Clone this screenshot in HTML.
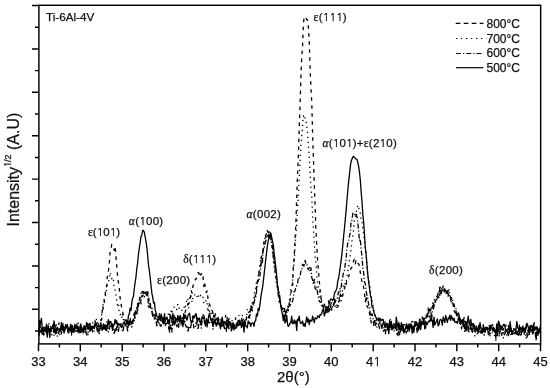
<!DOCTYPE html>
<html><head><meta charset="utf-8"><style>
html,body{margin:0;padding:0;background:#fff;}
#w{position:relative;width:550px;height:388px;overflow:hidden;background:#fff;}
svg{position:absolute;left:0;top:0;display:block;}
.t{position:absolute;white-space:nowrap;line-height:1;font-family:"Liberation Sans",Arial,sans-serif;color:#111;-webkit-text-stroke:0.25px #111;}
.g{font-family:"Liberation Serif","Times New Roman",serif;}
.ga{font-family:"Liberation Serif","Times New Roman",serif;font-style:italic;}
.c{transform:translateX(-50%);}
.one{font-family:"NanumGothic","Liberation Sans",sans-serif;font-size:0.965em;margin-right:-0.03em;}
sup{font-size:9px;vertical-align:baseline;position:relative;top:-8.5px;line-height:1;}
</style></head><body><div id="w">
<svg width="550" height="388" viewBox="0 0 550 388">
<g fill="none" stroke-linejoin="round" stroke-linecap="butt">
<polyline stroke="#000" stroke-width="1.3" stroke-dasharray="3.6 4.4" points="38.9,329.7 39.7,334.2 40.6,333.8 41.4,327.9 42.2,328.6 43.1,327.8 43.9,331.5 44.8,329.3 45.6,332.0 46.4,323.2 47.3,334.8 48.1,329.1 48.9,331.8 49.8,329.0 50.6,328.1 51.5,331.0 52.3,332.2 53.1,328.7 54.0,328.8 54.8,331.7 55.6,326.4 56.5,324.2 57.3,330.6 58.2,327.0 59.0,322.8 59.8,326.5 60.7,327.6 61.5,325.2 62.3,324.1 63.2,329.3 64.0,332.2 64.8,328.3 65.7,326.6 66.5,330.4 67.4,331.5 68.2,328.0 69.0,330.8 69.9,332.5 70.7,328.2 71.5,326.1 72.4,330.0 73.2,329.7 74.1,332.5 74.9,324.4 75.7,326.5 76.6,325.9 77.4,322.8 78.2,329.0 79.1,330.3 79.9,326.0 80.8,333.1 81.6,331.2 82.4,330.5 83.3,329.7 84.1,331.5 84.9,323.7 85.8,330.2 86.6,330.0 87.4,322.0 88.3,329.0 89.1,326.9 90.0,330.2 90.8,326.0 91.6,327.2 92.5,328.2 93.3,323.9 94.1,328.5 95.0,325.7 95.8,327.2 96.7,323.1 97.5,327.5 98.3,324.7 99.2,320.7 100.0,321.4 100.8,320.8 101.7,319.4 102.5,306.0 103.3,308.7 104.2,302.6 105.0,295.7 105.9,287.5 106.7,286.0 107.5,273.6 108.4,270.7 109.2,265.6 110.0,253.1 110.9,250.7 111.7,244.5 112.6,245.4 113.4,247.5 114.2,250.3 115.1,246.2 115.9,255.3 116.7,265.9 117.6,276.4 118.4,282.4 119.3,288.0 120.1,297.8 120.9,303.5 121.8,308.3 122.6,310.9 123.4,317.5 124.3,319.7 125.1,320.1 125.9,320.8 126.8,318.0 127.6,320.8 128.5,326.3 129.3,321.5 130.1,317.0 131.0,325.2 131.8,321.7 132.6,325.4 133.5,317.6 134.3,314.2 135.2,309.3 136.0,315.3 136.8,316.3 137.7,304.0 138.5,301.7 139.3,302.2 140.2,295.9 141.0,294.8 141.9,292.6 142.7,292.4 143.5,293.6 144.4,291.0 145.2,293.8 146.0,291.9 146.9,295.6 147.7,291.7 148.5,295.9 149.4,304.5 150.2,303.4 151.1,309.2 151.9,311.6 152.7,316.2 153.6,316.6 154.4,319.0 155.2,316.9 156.1,316.2 156.9,317.0 157.8,318.5 158.6,316.9 159.4,319.3 160.3,321.1 161.1,322.4 161.9,320.6 162.8,315.4 163.6,321.6 164.5,322.6 165.3,325.5 166.1,323.8 167.0,319.8 167.8,319.5 168.6,328.6 169.5,324.4 170.3,328.0 171.1,328.9 172.0,319.0 172.8,322.9 173.7,323.0 174.5,323.2 175.3,323.0 176.2,321.6 177.0,321.2 177.8,315.3 178.7,319.3 179.5,316.8 180.4,319.0 181.2,316.3 182.0,318.8 182.9,318.3 183.7,315.4 184.5,313.9 185.4,311.5 186.2,308.0 187.0,306.8 187.9,303.5 188.7,303.5 189.6,299.8 190.4,298.4 191.2,290.7 192.1,293.2 192.9,286.4 193.7,283.7 194.6,282.2 195.4,279.0 196.3,278.8 197.1,275.2 197.9,272.9 198.8,272.7 199.6,277.3 200.4,275.1 201.3,273.6 202.1,277.9 203.0,276.6 203.8,286.5 204.6,282.0 205.5,289.5 206.3,292.7 207.1,290.9 208.0,298.3 208.8,303.1 209.6,304.4 210.5,306.4 211.3,310.7 212.2,310.5 213.0,312.9 213.8,313.1 214.7,316.8 215.5,313.2 216.3,319.8 217.2,316.7 218.0,315.7 218.9,321.1 219.7,326.0 220.5,324.2 221.4,319.8 222.2,324.1 223.0,320.7 223.9,322.0 224.7,323.0 225.6,315.3 226.4,323.7 227.2,319.9 228.1,321.2 228.9,318.8 229.7,318.8 230.6,320.8 231.4,326.7 232.2,329.6 233.1,324.1 233.9,327.8 234.8,323.5 235.6,318.0 236.4,324.6 237.3,325.4 238.1,322.3 238.9,324.4 239.8,325.0 240.6,320.1 241.5,317.7 242.3,321.3 243.1,320.8 244.0,319.8 244.8,323.3 245.6,324.7 246.5,317.0 247.3,319.3 248.2,318.7 249.0,316.4 249.8,315.5 250.7,309.3 251.5,310.1 252.3,310.9 253.2,304.5 254.0,297.6 254.8,297.0 255.7,294.5 256.5,288.2 257.4,281.6 258.2,281.5 259.0,270.5 259.9,269.3 260.7,263.0 261.5,255.3 262.4,255.7 263.2,249.0 264.1,241.3 264.9,241.3 265.7,235.8 266.6,229.9 267.4,230.9 268.2,232.1 269.1,233.2 269.9,234.1 270.7,237.5 271.6,243.3 272.4,247.7 273.3,257.2 274.1,261.8 274.9,268.9 275.8,276.2 276.6,279.0 277.4,285.5 278.3,295.9 279.1,297.7 280.0,300.1 280.8,305.0 281.6,305.4 282.5,309.6 283.3,308.4 284.1,312.2 285.0,307.2 285.8,315.8 286.7,309.8 287.5,305.5 288.3,307.5 289.2,304.3 290.0,301.8 290.8,293.3 291.7,290.2 292.5,288.6 293.3,266.9 294.2,257.2 295.0,240.0 295.9,222.7 296.7,197.5 297.5,176.0 298.4,155.1 299.2,128.5 300.0,106.8 300.9,77.4 301.7,57.4 302.6,45.3 303.4,24.1 304.2,16.7 305.1,17.5 305.9,17.5 306.7,19.4 307.6,20.0 308.4,26.7 309.3,43.2 310.1,67.7 310.9,87.2 311.8,102.9 312.6,134.1 313.4,157.6 314.3,185.0 315.1,205.5 315.9,230.2 316.8,245.5 317.6,260.4 318.5,271.3 319.3,280.9 320.1,289.7 321.0,298.3 321.8,301.1 322.6,302.2 323.5,309.0 324.3,307.7 325.2,308.0 326.0,306.5 326.8,307.4 327.7,307.2 328.5,301.0 329.3,311.5 330.2,309.8 331.0,307.2 331.9,310.2 332.7,307.9 333.5,307.1 334.4,298.7 335.2,304.1 336.0,305.4 336.9,307.4 337.7,307.0 338.5,304.8 339.4,296.9 340.2,293.1 341.1,298.5 341.9,295.5 342.7,295.9 343.6,291.3 344.4,289.9 345.2,283.7 346.1,285.4 346.9,280.8 347.8,279.8 348.6,277.2 349.4,273.1 350.3,271.2 351.1,267.9 351.9,267.2 352.8,264.5 353.6,260.6 354.4,259.3 355.3,263.9 356.1,259.9 357.0,263.1 357.8,263.4 358.6,263.8 359.5,266.6 360.3,272.3 361.1,276.7 362.0,281.9 362.8,282.2 363.7,288.1 364.5,293.5 365.3,301.8 366.2,295.7 367.0,306.5 367.8,307.0 368.7,312.6 369.5,312.5 370.4,317.2 371.2,322.8 372.0,320.7 372.9,322.3 373.7,323.3 374.5,320.6 375.4,325.5 376.2,323.7 377.0,322.3 377.9,325.3 378.7,325.0 379.6,328.5 380.4,326.2 381.2,324.8 382.1,331.5 382.9,330.2 383.7,331.2 384.6,329.2 385.4,326.9 386.3,326.0 387.1,326.6 387.9,330.8 388.8,328.1 389.6,322.8 390.4,327.7 391.3,323.2 392.1,328.6 393.0,324.1 393.8,323.9 394.6,328.6 395.5,328.0 396.3,322.8 397.1,330.9 398.0,335.6 398.8,323.5 399.6,334.6 400.5,326.2 401.3,326.8 402.2,327.8 403.0,323.5 403.8,332.6 404.7,329.9 405.5,325.7 406.3,327.2 407.2,323.0 408.0,326.8 408.9,331.0 409.7,322.0 410.5,326.2 411.4,328.0 412.2,330.8 413.0,331.7 413.9,325.5 414.7,324.3 415.6,328.0 416.4,325.1 417.2,324.9 418.1,329.1 418.9,330.7 419.7,325.6 420.6,323.5 421.4,325.4 422.2,316.8 423.1,322.0 423.9,317.9 424.8,327.8 425.6,321.5 426.4,318.5 427.3,316.3 428.1,308.0 428.9,316.1 429.8,317.2 430.6,308.8 431.5,311.2 432.3,309.6 433.1,301.7 434.0,306.6 434.8,305.8 435.6,301.1 436.5,298.7 437.3,299.1 438.1,292.0 439.0,294.5 439.8,295.5 440.7,289.2 441.5,293.5 442.3,289.8 443.2,285.9 444.0,290.4 444.8,288.8 445.7,292.4 446.5,289.9 447.4,296.2 448.2,293.3 449.0,297.5 449.9,296.8 450.7,299.2 451.5,304.9 452.4,304.3 453.2,304.5 454.1,304.1 454.9,312.5 455.7,313.1 456.6,311.8 457.4,315.1 458.2,312.9 459.1,314.3 459.9,316.2 460.7,321.1 461.6,322.0 462.4,319.8 463.3,325.4 464.1,326.5 464.9,325.3 465.8,328.8 466.6,325.1 467.4,326.2 468.3,328.6 469.1,327.3 470.0,330.4 470.8,324.0 471.6,333.2 472.5,326.1 473.3,328.4 474.1,324.5 475.0,331.3 475.8,333.7 476.7,333.2 477.5,332.5 478.3,324.6 479.2,327.3 480.0,328.5 480.8,327.0 481.7,334.0 482.5,330.9 483.3,330.2 484.2,332.0 485.0,327.2 485.9,327.3 486.7,327.5 487.5,332.1 488.4,331.7 489.2,332.5 490.0,334.2 490.9,326.0 491.7,328.7 492.6,331.1 493.4,326.1 494.2,328.9 495.1,334.1 495.9,334.4 496.7,334.4 497.6,330.9 498.4,330.1 499.3,334.4 500.1,329.5 500.9,332.0 501.8,335.3 502.6,329.6 503.4,328.8 504.3,330.8 505.1,332.9 505.9,332.5 506.8,331.4 507.6,332.8 508.5,325.5 509.3,328.0 510.1,331.5 511.0,327.8 511.8,326.4 512.6,326.9 513.5,327.9 514.3,330.4 515.2,327.6 516.0,331.8 516.8,336.8 517.7,330.5 518.5,335.4 519.3,332.0 520.2,327.3 521.0,330.2 521.8,327.8 522.7,333.7 523.5,327.2 524.4,335.6 525.2,333.1 526.0,324.3 526.9,333.8 527.7,336.4 528.5,328.4 529.4,334.5 530.2,325.0 531.1,332.0 531.9,325.5 532.7,332.8 533.6,325.1 534.4,322.2 535.2,332.5 536.1,338.9 536.9,329.2 537.8,334.0 538.6,331.6 539.4,330.1 540.3,333.3"/>
<polyline stroke="#000" stroke-width="1.3" stroke-dasharray="1.3 3.7" points="38.9,329.6 39.7,333.2 40.6,332.2 41.4,332.1 42.2,335.1 43.1,325.5 43.9,327.5 44.8,325.1 45.6,329.2 46.4,332.9 47.3,329.5 48.1,331.2 48.9,323.0 49.8,330.0 50.6,326.4 51.5,335.5 52.3,332.5 53.1,332.7 54.0,329.2 54.8,331.5 55.6,331.6 56.5,328.2 57.3,327.7 58.2,329.0 59.0,327.3 59.8,327.3 60.7,328.3 61.5,326.8 62.3,331.9 63.2,323.8 64.0,332.0 64.8,327.1 65.7,327.3 66.5,324.6 67.4,328.7 68.2,328.3 69.0,329.8 69.9,327.3 70.7,329.4 71.5,335.2 72.4,330.4 73.2,327.0 74.1,332.2 74.9,328.5 75.7,330.9 76.6,330.9 77.4,327.5 78.2,322.3 79.1,327.6 79.9,330.6 80.8,327.4 81.6,330.1 82.4,331.9 83.3,326.7 84.1,332.7 84.9,333.9 85.8,332.0 86.6,332.3 87.4,332.0 88.3,335.8 89.1,328.7 90.0,328.0 90.8,329.9 91.6,324.7 92.5,322.3 93.3,324.3 94.1,328.1 95.0,328.0 95.8,320.7 96.7,318.8 97.5,322.9 98.3,322.0 99.2,320.7 100.0,320.9 100.8,319.9 101.7,313.8 102.5,311.4 103.3,302.7 104.2,298.3 105.0,297.4 105.9,293.7 106.7,289.3 107.5,284.9 108.4,281.9 109.2,279.4 110.0,272.4 110.9,274.5 111.7,278.3 112.6,280.9 113.4,279.5 114.2,289.3 115.1,290.1 115.9,295.0 116.7,300.7 117.6,306.2 118.4,304.1 119.3,314.4 120.1,314.7 120.9,314.5 121.8,318.0 122.6,313.5 123.4,319.6 124.3,323.1 125.1,320.8 125.9,322.3 126.8,323.0 127.6,323.6 128.5,326.5 129.3,322.7 130.1,321.3 131.0,323.1 131.8,327.0 132.6,318.1 133.5,319.3 134.3,311.1 135.2,317.9 136.0,313.5 136.8,312.9 137.7,306.2 138.5,300.8 139.3,303.1 140.2,300.0 141.0,293.5 141.9,290.0 142.7,293.1 143.5,290.7 144.4,297.1 145.2,290.2 146.0,291.6 146.9,294.5 147.7,292.8 148.5,297.2 149.4,306.6 150.2,304.5 151.1,305.7 151.9,306.0 152.7,313.6 153.6,315.8 154.4,316.2 155.2,315.5 156.1,318.8 156.9,319.9 157.8,317.1 158.6,321.8 159.4,313.1 160.3,315.9 161.1,319.1 161.9,319.6 162.8,315.9 163.6,320.4 164.5,322.3 165.3,319.8 166.1,318.4 167.0,319.7 167.8,317.6 168.6,311.9 169.5,314.0 170.3,317.7 171.1,309.4 172.0,312.1 172.8,309.9 173.7,307.6 174.5,306.6 175.3,309.4 176.2,309.6 177.0,309.2 177.8,304.0 178.7,307.2 179.5,309.0 180.4,310.8 181.2,309.9 182.0,310.3 182.9,310.8 183.7,309.7 184.5,304.6 185.4,306.5 186.2,303.6 187.0,298.1 187.9,299.2 188.7,308.6 189.6,298.7 190.4,294.6 191.2,297.9 192.1,302.3 192.9,297.2 193.7,297.4 194.6,294.8 195.4,294.6 196.3,297.6 197.1,296.2 197.9,294.0 198.8,296.7 199.6,297.7 200.4,295.2 201.3,297.4 202.1,298.5 203.0,297.3 203.8,303.5 204.6,301.4 205.5,301.6 206.3,300.0 207.1,302.6 208.0,312.0 208.8,305.6 209.6,311.6 210.5,310.4 211.3,314.3 212.2,315.6 213.0,312.3 213.8,314.7 214.7,316.7 215.5,317.6 216.3,317.9 217.2,317.7 218.0,321.4 218.9,324.2 219.7,322.2 220.5,318.5 221.4,322.6 222.2,321.8 223.0,323.5 223.9,328.3 224.7,321.8 225.6,322.7 226.4,320.0 227.2,322.2 228.1,321.4 228.9,328.7 229.7,324.6 230.6,321.8 231.4,330.1 232.2,319.5 233.1,326.8 233.9,327.3 234.8,325.9 235.6,323.1 236.4,323.3 237.3,322.4 238.1,325.8 238.9,315.4 239.8,321.0 240.6,322.7 241.5,319.9 242.3,315.5 243.1,319.8 244.0,317.5 244.8,321.5 245.6,322.3 246.5,317.0 247.3,309.6 248.2,313.4 249.0,309.5 249.8,312.1 250.7,312.6 251.5,306.2 252.3,307.9 253.2,303.3 254.0,297.7 254.8,290.3 255.7,288.9 256.5,281.3 257.4,282.3 258.2,275.7 259.0,273.8 259.9,266.6 260.7,256.9 261.5,257.9 262.4,254.0 263.2,251.4 264.1,241.7 264.9,238.4 265.7,237.7 266.6,233.1 267.4,231.0 268.2,231.0 269.1,239.8 269.9,235.0 270.7,238.0 271.6,244.4 272.4,251.3 273.3,260.6 274.1,266.6 274.9,273.0 275.8,277.9 276.6,284.2 277.4,288.0 278.3,290.9 279.1,304.0 280.0,301.3 280.8,308.4 281.6,307.1 282.5,309.5 283.3,310.5 284.1,307.6 285.0,311.5 285.8,312.3 286.7,312.5 287.5,309.7 288.3,308.7 289.2,303.3 290.0,298.2 290.8,288.3 291.7,285.4 292.5,282.3 293.3,270.2 294.2,261.5 295.0,247.8 295.9,234.1 296.7,226.4 297.5,208.2 298.4,195.8 299.2,178.8 300.0,162.5 300.9,144.8 301.7,138.0 302.6,124.5 303.4,116.0 304.2,119.6 305.1,117.8 305.9,120.4 306.7,125.1 307.6,133.7 308.4,145.9 309.3,158.2 310.1,172.1 310.9,188.3 311.8,196.1 312.6,218.0 313.4,228.4 314.3,244.6 315.1,257.1 315.9,263.1 316.8,275.9 317.6,283.8 318.5,287.0 319.3,292.7 320.1,298.6 321.0,295.9 321.8,303.1 322.6,306.7 323.5,306.2 324.3,303.8 325.2,307.7 326.0,313.3 326.8,312.7 327.7,308.3 328.5,306.0 329.3,307.8 330.2,307.4 331.0,304.9 331.9,305.3 332.7,307.3 333.5,307.6 334.4,297.8 335.2,306.4 336.0,303.4 336.9,305.4 337.7,301.5 338.5,301.8 339.4,303.8 340.2,290.9 341.1,300.8 341.9,295.6 342.7,288.7 343.6,284.5 344.4,288.3 345.2,281.9 346.1,282.5 346.9,276.4 347.8,270.7 348.6,267.8 349.4,260.2 350.3,255.2 351.1,249.0 351.9,241.3 352.8,235.9 353.6,229.6 354.4,219.1 355.3,216.5 356.1,212.7 357.0,209.2 357.8,205.0 358.6,207.2 359.5,210.6 360.3,213.3 361.1,220.5 362.0,221.1 362.8,227.8 363.7,234.4 364.5,242.2 365.3,249.1 366.2,253.8 367.0,266.0 367.8,274.4 368.7,281.4 369.5,282.7 370.4,290.3 371.2,300.3 372.0,300.1 372.9,305.3 373.7,307.5 374.5,313.8 375.4,316.3 376.2,322.6 377.0,319.0 377.9,320.4 378.7,316.5 379.6,320.1 380.4,320.0 381.2,321.9 382.1,319.3 382.9,328.0 383.7,321.1 384.6,325.7 385.4,321.0 386.3,326.6 387.1,331.1 387.9,323.2 388.8,327.3 389.6,326.0 390.4,327.3 391.3,327.9 392.1,324.6 393.0,326.2 393.8,325.0 394.6,324.3 395.5,323.1 396.3,330.5 397.1,324.9 398.0,329.6 398.8,329.4 399.6,324.3 400.5,331.1 401.3,324.7 402.2,329.7 403.0,332.4 403.8,325.1 404.7,324.4 405.5,324.3 406.3,335.0 407.2,326.1 408.0,323.1 408.9,329.9 409.7,326.5 410.5,326.8 411.4,323.5 412.2,319.3 413.0,324.1 413.9,322.8 414.7,320.7 415.6,322.2 416.4,322.4 417.2,327.8 418.1,327.0 418.9,325.9 419.7,322.0 420.6,319.1 421.4,323.4 422.2,323.2 423.1,324.0 423.9,319.8 424.8,318.4 425.6,318.6 426.4,313.6 427.3,312.6 428.1,315.4 428.9,308.3 429.8,310.1 430.6,310.8 431.5,307.5 432.3,306.2 433.1,300.3 434.0,301.0 434.8,298.8 435.6,299.1 436.5,296.9 437.3,294.3 438.1,297.0 439.0,292.5 439.8,289.5 440.7,287.9 441.5,288.5 442.3,287.0 443.2,291.8 444.0,289.7 444.8,288.4 445.7,288.5 446.5,288.7 447.4,291.8 448.2,297.0 449.0,297.6 449.9,297.3 450.7,299.7 451.5,296.6 452.4,305.3 453.2,304.7 454.1,311.0 454.9,308.7 455.7,309.6 456.6,313.4 457.4,312.6 458.2,320.0 459.1,318.3 459.9,319.9 460.7,321.1 461.6,320.1 462.4,323.8 463.3,323.8 464.1,329.7 464.9,325.0 465.8,326.7 466.6,324.6 467.4,325.4 468.3,326.1 469.1,331.8 470.0,328.2 470.8,331.5 471.6,327.7 472.5,327.6 473.3,322.7 474.1,332.0 475.0,336.3 475.8,328.9 476.7,334.6 477.5,332.8 478.3,327.8 479.2,332.7 480.0,327.3 480.8,329.3 481.7,334.5 482.5,331.0 483.3,326.6 484.2,335.3 485.0,326.9 485.9,330.1 486.7,329.5 487.5,330.2 488.4,327.9 489.2,325.3 490.0,337.0 490.9,327.6 491.7,327.9 492.6,322.7 493.4,331.2 494.2,335.3 495.1,335.7 495.9,340.3 496.7,336.0 497.6,332.4 498.4,331.1 499.3,335.9 500.1,331.0 500.9,331.8 501.8,327.9 502.6,331.5 503.4,337.8 504.3,330.9 505.1,332.5 505.9,323.1 506.8,335.7 507.6,332.5 508.5,336.0 509.3,332.0 510.1,328.3 511.0,326.6 511.8,332.9 512.6,331.1 513.5,327.9 514.3,331.0 515.2,329.0 516.0,333.6 516.8,329.7 517.7,327.0 518.5,330.8 519.3,329.2 520.2,336.1 521.0,329.5 521.8,326.6 522.7,330.8 523.5,330.2 524.4,331.9 525.2,331.7 526.0,327.5 526.9,330.8 527.7,330.6 528.5,326.9 529.4,329.0 530.2,331.6 531.1,325.5 531.9,327.3 532.7,329.3 533.6,330.6 534.4,332.6 535.2,326.3 536.1,331.9 536.9,333.0 537.8,336.1 538.6,329.4 539.4,327.8 540.3,325.7"/>
<polyline stroke="#000" stroke-width="1.3" stroke-dasharray="5 2 1.2 2" points="38.9,336.0 39.7,319.4 40.6,333.1 41.4,330.0 42.2,334.3 43.1,331.1 43.9,336.0 44.8,329.9 45.6,328.0 46.4,331.7 47.3,331.2 48.1,328.5 48.9,328.9 49.8,332.1 50.6,332.1 51.5,328.0 52.3,328.4 53.1,323.5 54.0,335.4 54.8,328.9 55.6,334.2 56.5,331.0 57.3,336.2 58.2,334.8 59.0,330.7 59.8,334.6 60.7,326.3 61.5,333.8 62.3,324.5 63.2,330.7 64.0,333.1 64.8,330.3 65.7,328.3 66.5,326.8 67.4,328.3 68.2,333.0 69.0,332.5 69.9,328.6 70.7,325.2 71.5,331.7 72.4,324.5 73.2,327.6 74.1,326.9 74.9,331.9 75.7,330.2 76.6,330.9 77.4,330.3 78.2,327.0 79.1,331.1 79.9,334.1 80.8,329.2 81.6,331.4 82.4,328.9 83.3,332.8 84.1,331.5 84.9,332.2 85.8,330.4 86.6,334.8 87.4,328.0 88.3,328.1 89.1,327.2 90.0,331.2 90.8,327.0 91.6,326.9 92.5,331.5 93.3,332.9 94.1,330.9 95.0,319.8 95.8,325.6 96.7,325.2 97.5,324.7 98.3,327.3 99.2,334.8 100.0,327.6 100.8,326.1 101.7,330.9 102.5,328.7 103.3,328.8 104.2,326.1 105.0,328.3 105.9,329.8 106.7,321.8 107.5,322.7 108.4,331.8 109.2,330.9 110.0,326.3 110.9,324.5 111.7,327.3 112.6,323.8 113.4,326.6 114.2,333.3 115.1,328.1 115.9,331.5 116.7,326.8 117.6,328.7 118.4,332.0 119.3,322.8 120.1,326.0 120.9,326.5 121.8,327.9 122.6,332.1 123.4,329.0 124.3,321.5 125.1,325.5 125.9,323.1 126.8,322.8 127.6,332.2 128.5,321.5 129.3,325.2 130.1,321.4 131.0,325.7 131.8,323.0 132.6,321.0 133.5,318.9 134.3,320.9 135.2,312.5 136.0,311.0 136.8,307.4 137.7,311.8 138.5,304.5 139.3,299.8 140.2,298.9 141.0,303.9 141.9,295.3 142.7,296.1 143.5,294.3 144.4,293.0 145.2,292.0 146.0,294.1 146.9,295.8 147.7,293.2 148.5,308.3 149.4,306.5 150.2,306.9 151.1,308.4 151.9,309.0 152.7,316.4 153.6,314.8 154.4,318.5 155.2,313.9 156.1,320.7 156.9,326.9 157.8,320.2 158.6,324.3 159.4,322.2 160.3,326.1 161.1,326.2 161.9,323.0 162.8,321.0 163.6,323.9 164.5,323.1 165.3,321.0 166.1,324.6 167.0,324.6 167.8,320.2 168.6,322.9 169.5,333.1 170.3,326.1 171.1,323.7 172.0,331.9 172.8,321.9 173.7,315.1 174.5,317.0 175.3,318.4 176.2,324.4 177.0,326.8 177.8,316.2 178.7,327.3 179.5,319.4 180.4,324.4 181.2,325.1 182.0,325.0 182.9,323.6 183.7,324.1 184.5,319.7 185.4,324.5 186.2,326.9 187.0,326.7 187.9,332.4 188.7,327.2 189.6,326.0 190.4,329.2 191.2,324.4 192.1,319.2 192.9,316.0 193.7,327.8 194.6,325.4 195.4,326.4 196.3,322.4 197.1,324.6 197.9,329.8 198.8,324.6 199.6,319.7 200.4,322.0 201.3,328.1 202.1,319.7 203.0,314.7 203.8,315.7 204.6,318.8 205.5,326.0 206.3,323.6 207.1,320.7 208.0,319.0 208.8,322.9 209.6,322.7 210.5,321.3 211.3,322.4 212.2,320.6 213.0,329.2 213.8,315.1 214.7,323.5 215.5,319.7 216.3,325.6 217.2,322.6 218.0,324.7 218.9,325.4 219.7,324.5 220.5,327.2 221.4,319.4 222.2,327.3 223.0,323.5 223.9,325.6 224.7,329.7 225.6,328.3 226.4,331.3 227.2,317.3 228.1,321.7 228.9,328.2 229.7,321.3 230.6,324.5 231.4,330.9 232.2,328.2 233.1,322.2 233.9,326.9 234.8,327.6 235.6,325.6 236.4,324.9 237.3,325.5 238.1,319.8 238.9,325.0 239.8,321.1 240.6,325.3 241.5,325.0 242.3,320.3 243.1,324.7 244.0,323.3 244.8,321.4 245.6,323.1 246.5,318.9 247.3,317.9 248.2,317.9 249.0,316.0 249.8,318.0 250.7,305.7 251.5,309.7 252.3,302.5 253.2,304.0 254.0,303.0 254.8,299.0 255.7,297.6 256.5,292.0 257.4,281.0 258.2,280.1 259.0,281.2 259.9,276.3 260.7,268.1 261.5,259.5 262.4,262.7 263.2,248.6 264.1,249.4 264.9,244.5 265.7,241.5 266.6,235.5 267.4,235.0 268.2,236.9 269.1,233.0 269.9,232.0 270.7,237.6 271.6,242.0 272.4,246.7 273.3,251.4 274.1,260.9 274.9,266.2 275.8,270.6 276.6,280.1 277.4,285.5 278.3,291.4 279.1,291.6 280.0,298.0 280.8,304.7 281.6,308.8 282.5,309.4 283.3,310.4 284.1,313.1 285.0,314.4 285.8,316.8 286.7,312.7 287.5,308.9 288.3,310.9 289.2,302.6 290.0,306.7 290.8,303.4 291.7,302.5 292.5,301.4 293.3,297.7 294.2,291.3 295.0,291.1 295.9,287.2 296.7,285.9 297.5,283.7 298.4,277.7 299.2,278.5 300.0,277.0 300.9,271.0 301.7,270.9 302.6,264.2 303.4,264.7 304.2,267.0 305.1,260.5 305.9,263.2 306.7,262.8 307.6,268.2 308.4,269.6 309.3,267.5 310.1,271.3 310.9,267.7 311.8,278.0 312.6,279.6 313.4,284.6 314.3,279.3 315.1,288.2 315.9,289.3 316.8,286.6 317.6,293.6 318.5,297.4 319.3,301.7 320.1,302.0 321.0,301.7 321.8,305.6 322.6,305.2 323.5,304.6 324.3,304.2 325.2,307.9 326.0,308.1 326.8,312.9 327.7,306.4 328.5,311.8 329.3,307.9 330.2,309.7 331.0,303.3 331.9,302.6 332.7,303.2 333.5,305.4 334.4,302.3 335.2,302.5 336.0,299.8 336.9,299.8 337.7,295.8 338.5,291.9 339.4,291.8 340.2,287.9 341.1,288.4 341.9,280.6 342.7,277.2 343.6,271.9 344.4,270.4 345.2,264.7 346.1,258.9 346.9,249.1 347.8,242.8 348.6,241.0 349.4,236.5 350.3,232.8 351.1,220.8 351.9,220.2 352.8,213.5 353.6,212.8 354.4,213.3 355.3,216.0 356.1,214.3 357.0,217.0 357.8,222.4 358.6,231.5 359.5,240.6 360.3,239.0 361.1,249.2 362.0,256.5 362.8,267.5 363.7,273.1 364.5,282.4 365.3,283.2 366.2,291.3 367.0,295.5 367.8,298.5 368.7,305.0 369.5,305.6 370.4,318.2 371.2,315.8 372.0,313.6 372.9,316.6 373.7,325.4 374.5,319.7 375.4,324.4 376.2,324.8 377.0,327.2 377.9,326.3 378.7,324.0 379.6,323.1 380.4,319.6 381.2,325.5 382.1,326.4 382.9,324.9 383.7,325.8 384.6,322.5 385.4,333.8 386.3,325.2 387.1,323.5 387.9,325.1 388.8,326.6 389.6,329.8 390.4,319.4 391.3,329.2 392.1,325.6 393.0,327.1 393.8,331.2 394.6,330.4 395.5,325.7 396.3,327.7 397.1,334.3 398.0,332.7 398.8,331.1 399.6,328.3 400.5,331.5 401.3,329.6 402.2,326.4 403.0,324.8 403.8,329.9 404.7,329.3 405.5,332.0 406.3,326.3 407.2,332.6 408.0,326.6 408.9,331.9 409.7,329.4 410.5,325.6 411.4,324.3 412.2,326.9 413.0,326.2 413.9,330.1 414.7,324.5 415.6,321.6 416.4,326.2 417.2,332.3 418.1,331.0 418.9,323.2 419.7,323.9 420.6,325.3 421.4,321.5 422.2,322.2 423.1,321.4 423.9,318.1 424.8,318.6 425.6,318.0 426.4,319.1 427.3,313.6 428.1,316.2 428.9,311.5 429.8,310.5 430.6,308.1 431.5,321.0 432.3,311.4 433.1,309.8 434.0,306.5 434.8,301.9 435.6,300.9 436.5,299.6 437.3,298.2 438.1,296.9 439.0,297.5 439.8,285.8 440.7,290.2 441.5,292.0 442.3,289.0 443.2,289.0 444.0,292.6 444.8,289.9 445.7,293.9 446.5,290.7 447.4,292.4 448.2,290.7 449.0,289.9 449.9,295.2 450.7,298.1 451.5,299.0 452.4,298.3 453.2,305.4 454.1,305.8 454.9,307.5 455.7,307.2 456.6,315.8 457.4,317.2 458.2,315.4 459.1,315.8 459.9,318.3 460.7,324.1 461.6,328.8 462.4,321.3 463.3,321.0 464.1,317.5 464.9,333.0 465.8,321.3 466.6,328.3 467.4,327.7 468.3,331.0 469.1,324.3 470.0,322.2 470.8,328.4 471.6,329.6 472.5,332.3 473.3,323.1 474.1,327.4 475.0,328.3 475.8,324.8 476.7,329.0 477.5,332.3 478.3,329.7 479.2,325.1 480.0,331.2 480.8,333.0 481.7,331.9 482.5,332.8 483.3,324.7 484.2,331.8 485.0,332.4 485.9,329.1 486.7,330.2 487.5,327.8 488.4,334.6 489.2,329.5 490.0,327.4 490.9,331.2 491.7,331.0 492.6,332.9 493.4,327.8 494.2,328.4 495.1,332.0 495.9,338.3 496.7,332.3 497.6,326.1 498.4,331.3 499.3,328.2 500.1,324.5 500.9,328.5 501.8,328.9 502.6,332.3 503.4,335.3 504.3,334.7 505.1,333.6 505.9,329.4 506.8,331.4 507.6,330.8 508.5,335.7 509.3,328.7 510.1,329.1 511.0,336.0 511.8,332.9 512.6,329.5 513.5,331.6 514.3,331.5 515.2,331.7 516.0,333.8 516.8,332.3 517.7,330.4 518.5,329.3 519.3,325.2 520.2,329.6 521.0,335.0 521.8,331.9 522.7,328.9 523.5,330.3 524.4,328.2 525.2,332.1 526.0,337.9 526.9,337.3 527.7,335.2 528.5,333.8 529.4,330.4 530.2,327.0 531.1,331.2 531.9,329.7 532.7,334.0 533.6,331.7 534.4,329.2 535.2,332.7 536.1,341.1 536.9,328.1 537.8,335.1 538.6,333.3 539.4,330.9 540.3,328.7"/>
<polyline stroke="#000" stroke-width="1.3" points="38.9,330.7 39.7,325.0 40.6,323.0 41.4,318.4 42.2,327.1 43.1,332.5 43.9,328.4 44.8,330.0 45.6,331.7 46.4,325.2 47.3,337.2 48.1,325.2 48.9,329.5 49.8,337.5 50.6,327.8 51.5,328.6 52.3,326.4 53.1,329.3 54.0,320.9 54.8,325.9 55.6,333.9 56.5,328.8 57.3,327.3 58.2,329.3 59.0,329.5 59.8,328.6 60.7,330.0 61.5,322.4 62.3,330.0 63.2,325.7 64.0,330.7 64.8,327.9 65.7,324.6 66.5,327.7 67.4,324.5 68.2,331.4 69.0,327.8 69.9,330.8 70.7,324.1 71.5,333.4 72.4,326.9 73.2,332.5 74.1,330.7 74.9,324.1 75.7,328.9 76.6,326.0 77.4,329.2 78.2,332.6 79.1,330.1 79.9,331.4 80.8,323.8 81.6,328.4 82.4,328.9 83.3,331.4 84.1,325.6 84.9,329.6 85.8,329.1 86.6,322.5 87.4,324.1 88.3,329.1 89.1,323.6 90.0,323.4 90.8,330.5 91.6,328.4 92.5,326.6 93.3,327.7 94.1,325.9 95.0,325.4 95.8,325.6 96.7,328.4 97.5,331.5 98.3,325.4 99.2,326.7 100.0,326.2 100.8,322.6 101.7,327.6 102.5,329.6 103.3,323.8 104.2,329.4 105.0,324.6 105.9,330.3 106.7,330.5 107.5,325.1 108.4,319.6 109.2,325.0 110.0,321.5 110.9,321.6 111.7,325.1 112.6,330.4 113.4,325.4 114.2,324.9 115.1,319.4 115.9,323.4 116.7,320.7 117.6,326.9 118.4,323.3 119.3,324.7 120.1,324.6 120.9,323.8 121.8,327.3 122.6,325.4 123.4,322.4 124.3,323.4 125.1,324.0 125.9,325.6 126.8,320.6 127.6,323.0 128.5,315.3 129.3,314.1 130.1,308.2 131.0,310.7 131.8,302.6 132.6,298.3 133.5,296.3 134.3,288.5 135.2,282.0 136.0,276.8 136.8,268.5 137.7,262.3 138.5,253.8 139.3,248.2 140.2,242.5 141.0,236.6 141.9,234.7 142.7,230.5 143.5,230.4 144.4,232.5 145.2,237.2 146.0,241.3 146.9,247.8 147.7,256.0 148.5,264.8 149.4,271.0 150.2,277.8 151.1,286.0 151.9,293.4 152.7,297.1 153.6,303.1 154.4,302.4 155.2,310.1 156.1,312.9 156.9,316.4 157.8,317.1 158.6,319.6 159.4,315.0 160.3,320.7 161.1,313.8 161.9,317.4 162.8,322.9 163.6,322.2 164.5,313.6 165.3,321.4 166.1,318.2 167.0,317.1 167.8,320.3 168.6,320.0 169.5,324.0 170.3,315.0 171.1,318.2 172.0,319.1 172.8,313.6 173.7,323.2 174.5,325.0 175.3,317.4 176.2,320.5 177.0,318.4 177.8,320.1 178.7,317.0 179.5,321.8 180.4,315.4 181.2,323.4 182.0,320.1 182.9,326.6 183.7,313.7 184.5,318.6 185.4,314.8 186.2,318.4 187.0,320.2 187.9,315.9 188.7,314.3 189.6,313.3 190.4,319.5 191.2,322.8 192.1,322.5 192.9,318.9 193.7,315.8 194.6,317.7 195.4,314.1 196.3,313.9 197.1,322.3 197.9,318.1 198.8,320.0 199.6,318.1 200.4,323.3 201.3,323.7 202.1,316.7 203.0,318.1 203.8,317.1 204.6,323.5 205.5,323.4 206.3,318.6 207.1,326.9 208.0,319.7 208.8,315.8 209.6,313.3 210.5,319.4 211.3,321.0 212.2,318.1 213.0,321.2 213.8,324.0 214.7,320.0 215.5,323.1 216.3,326.0 217.2,322.5 218.0,319.2 218.9,322.7 219.7,323.3 220.5,328.8 221.4,320.6 222.2,317.2 223.0,323.4 223.9,323.7 224.7,321.5 225.6,324.9 226.4,324.3 227.2,327.5 228.1,320.9 228.9,321.6 229.7,324.0 230.6,322.6 231.4,328.6 232.2,326.5 233.1,324.7 233.9,330.0 234.8,326.7 235.6,328.4 236.4,327.7 237.3,324.5 238.1,324.5 238.9,324.9 239.8,321.3 240.6,323.6 241.5,327.5 242.3,325.6 243.1,321.4 244.0,332.1 244.8,320.9 245.6,326.1 246.5,326.3 247.3,327.9 248.2,320.8 249.0,323.4 249.8,322.5 250.7,326.4 251.5,323.6 252.3,323.2 253.2,322.9 254.0,326.4 254.8,321.4 255.7,320.6 256.5,313.8 257.4,316.1 258.2,308.5 259.0,310.6 259.9,304.8 260.7,298.3 261.5,292.9 262.4,288.5 263.2,282.2 264.1,274.4 264.9,267.3 265.7,259.8 266.6,252.4 267.4,246.1 268.2,240.9 269.1,237.7 269.9,234.6 270.7,233.0 271.6,237.0 272.4,240.6 273.3,244.9 274.1,253.1 274.9,259.3 275.8,267.0 276.6,274.9 277.4,284.8 278.3,290.2 279.1,296.7 280.0,301.6 280.8,305.1 281.6,310.9 282.5,314.5 283.3,320.5 284.1,314.6 285.0,323.0 285.8,321.5 286.7,315.1 287.5,324.0 288.3,326.5 289.2,325.2 290.0,322.8 290.8,322.8 291.7,316.2 292.5,323.7 293.3,323.3 294.2,319.9 295.0,323.6 295.9,320.9 296.7,330.4 297.5,319.2 298.4,320.2 299.2,316.2 300.0,321.8 300.9,323.5 301.7,323.1 302.6,321.0 303.4,325.8 304.2,323.7 305.1,326.6 305.9,322.4 306.7,316.9 307.6,322.0 308.4,319.0 309.3,324.7 310.1,319.9 310.9,320.8 311.8,321.1 312.6,316.1 313.4,319.2 314.3,322.7 315.1,317.8 315.9,318.5 316.8,318.9 317.6,315.8 318.5,316.3 319.3,317.6 320.1,314.5 321.0,314.9 321.8,313.5 322.6,310.2 323.5,308.6 324.3,315.9 325.2,313.2 326.0,308.5 326.8,309.8 327.7,309.0 328.5,307.4 329.3,303.3 330.2,299.9 331.0,299.0 331.9,299.4 332.7,300.5 333.5,298.9 334.4,294.0 335.2,291.5 336.0,290.6 336.9,288.1 337.7,281.4 338.5,278.5 339.4,273.3 340.2,267.3 341.1,260.9 341.9,253.9 342.7,246.4 343.6,236.4 344.4,229.0 345.2,220.3 346.1,210.6 346.9,200.8 347.8,190.8 348.6,181.7 349.4,175.3 350.3,166.4 351.1,161.5 351.9,159.3 352.8,157.0 353.6,156.2 354.4,157.6 355.3,158.3 356.1,159.1 357.0,159.3 357.8,162.4 358.6,166.2 359.5,172.4 360.3,179.8 361.1,191.0 362.0,201.7 362.8,214.1 363.7,222.8 364.5,234.7 365.3,247.1 366.2,255.0 367.0,265.9 367.8,274.6 368.7,282.3 369.5,288.1 370.4,295.2 371.2,297.7 372.0,307.0 372.9,307.2 373.7,311.7 374.5,313.8 375.4,316.4 376.2,317.8 377.0,320.0 377.9,318.9 378.7,320.9 379.6,318.2 380.4,319.0 381.2,320.1 382.1,320.0 382.9,319.2 383.7,321.8 384.6,326.0 385.4,325.6 386.3,323.3 387.1,325.8 387.9,326.2 388.8,333.7 389.6,320.3 390.4,326.4 391.3,321.5 392.1,329.9 393.0,325.3 393.8,327.6 394.6,326.9 395.5,328.7 396.3,317.1 397.1,322.9 398.0,327.0 398.8,322.5 399.6,328.7 400.5,331.0 401.3,322.7 402.2,325.5 403.0,329.0 403.8,332.8 404.7,330.2 405.5,329.2 406.3,324.0 407.2,326.9 408.0,327.2 408.9,324.7 409.7,328.0 410.5,325.5 411.4,325.0 412.2,333.3 413.0,325.8 413.9,332.3 414.7,324.8 415.6,325.7 416.4,321.8 417.2,323.8 418.1,330.6 418.9,325.4 419.7,318.8 420.6,329.6 421.4,322.0 422.2,323.3 423.1,324.3 423.9,318.3 424.8,328.9 425.6,327.8 426.4,322.5 427.3,324.4 428.1,322.1 428.9,320.9 429.8,321.8 430.6,317.9 431.5,320.8 432.3,320.2 433.1,327.5 434.0,317.1 434.8,325.1 435.6,323.2 436.5,321.3 437.3,318.9 438.1,325.8 439.0,324.6 439.8,320.0 440.7,319.4 441.5,320.4 442.3,325.0 443.2,317.0 444.0,319.7 444.8,322.6 445.7,315.3 446.5,319.0 447.4,322.4 448.2,318.0 449.0,318.9 449.9,314.9 450.7,320.4 451.5,316.0 452.4,318.4 453.2,320.6 454.1,318.2 454.9,322.4 455.7,322.1 456.6,321.7 457.4,323.4 458.2,320.3 459.1,314.7 459.9,323.8 460.7,323.8 461.6,320.4 462.4,319.6 463.3,325.8 464.1,321.3 464.9,321.8 465.8,321.9 466.6,330.7 467.4,321.7 468.3,316.2 469.1,324.0 470.0,321.4 470.8,319.4 471.6,325.5 472.5,323.7 473.3,328.3 474.1,324.8 475.0,329.8 475.8,329.4 476.7,326.6 477.5,329.2 478.3,332.8 479.2,329.4 480.0,322.7 480.8,327.7 481.7,328.3 482.5,331.8 483.3,327.5 484.2,331.7 485.0,327.7 485.9,328.3 486.7,327.5 487.5,328.4 488.4,328.0 489.2,329.6 490.0,326.0 490.9,325.2 491.7,328.4 492.6,329.2 493.4,327.4 494.2,330.1 495.1,329.9 495.9,334.5 496.7,324.0 497.6,335.5 498.4,321.1 499.3,323.0 500.1,329.8 500.9,325.7 501.8,327.9 502.6,327.4 503.4,324.5 504.3,324.3 505.1,327.6 505.9,330.1 506.8,330.9 507.6,329.5 508.5,327.8 509.3,332.9 510.1,321.6 511.0,329.0 511.8,333.2 512.6,334.3 513.5,333.0 514.3,333.5 515.2,332.5 516.0,329.5 516.8,321.5 517.7,327.3 518.5,328.1 519.3,334.4 520.2,327.6 521.0,327.9 521.8,331.3 522.7,325.9 523.5,329.2 524.4,331.0 525.2,328.1 526.0,328.9 526.9,323.2 527.7,325.0 528.5,328.3 529.4,333.0 530.2,327.2 531.1,326.0 531.9,326.5 532.7,331.4 533.6,324.4 534.4,329.7 535.2,327.9 536.1,329.4 536.9,326.6 537.8,329.5 538.6,333.7 539.4,328.2 540.3,327.5"/>
</g>
<g stroke="#000" stroke-width="1.45" fill="none">
<rect x="38.9" y="5.25" width="501.75" height="338.65"/>
<path d="M32 5.5H38.5M32 48.9H38.5M32 92.3H38.5M32 135.7H38.5M32 179.1H38.5M32 222.5H38.5M32 265.9H38.5M32 309.3H38.5M35 27.2H38.5M35 70.6H38.5M35 114H38.5M35 157.4H38.5M35 200.8H38.5M35 244.2H38.5M35 287.6H38.5M35 331H38.5"/>
<path d="M38.5 343.8V351.3M59.4 343.8V347.5M80.3 343.8V351.3M101.2 343.8V347.5M122.2 343.8V351.3M143.1 343.8V347.5M164.0 343.8V351.3M184.9 343.8V347.5M205.8 343.8V351.3M226.7 343.8V347.5M247.7 343.8V351.3M268.6 343.8V347.5M289.5 343.8V351.3M310.4 343.8V347.5M331.3 343.8V351.3M352.2 343.8V347.5M373.2 343.8V351.3M394.1 343.8V347.5M415.0 343.8V351.3M435.9 343.8V347.5M456.8 343.8V351.3M477.7 343.8V347.5M498.7 343.8V351.3M519.6 343.8V347.5M540.5 343.8V351.3"/>
</g>
<g stroke="#000" stroke-width="1.2" fill="none">
<path d="M455.7 23.4H483.5" stroke-dasharray="4.7 3.3"/>
<path d="M456 38.5H483" stroke-dasharray="1.3 3.7"/>
<path d="M456 53.5H482" stroke-dasharray="5 2 1.2 2"/>
<path d="M456 67.7H483.4"/>
</g>
</svg>
<div class="t c" style="left:38.50px;top:354.80px;font-size:13px">33</div>
<div class="t c" style="left:80.33px;top:354.80px;font-size:13px">34</div>
<div class="t c" style="left:122.17px;top:354.80px;font-size:13px">35</div>
<div class="t c" style="left:164.00px;top:354.80px;font-size:13px">36</div>
<div class="t c" style="left:205.83px;top:354.80px;font-size:13px">37</div>
<div class="t c" style="left:247.66px;top:354.80px;font-size:13px">38</div>
<div class="t c" style="left:289.50px;top:354.80px;font-size:13px">39</div>
<div class="t c" style="left:331.33px;top:354.80px;font-size:13px">40</div>
<div class="t c" style="left:373.16px;top:354.80px;font-size:13px">4<span class=one>1</span></div>
<div class="t c" style="left:415.00px;top:354.80px;font-size:13px">42</div>
<div class="t c" style="left:456.83px;top:354.80px;font-size:13px">43</div>
<div class="t c" style="left:498.66px;top:354.80px;font-size:13px">44</div>
<div class="t c" style="left:540.50px;top:354.80px;font-size:13px">45</div>
<div class="t c" style="left:293.30px;top:368.80px;font-size:15px;">2θ(°)</div>
<div class="t" style="left:46.00px;top:11.00px;font-size:11.7px;">Ti-6Al-4V</div>
<div class="t" style="left:486.50px;top:17.84px;font-size:12px;">800°C</div>
<div class="t" style="left:486.50px;top:32.74px;font-size:12px;">700°C</div>
<div class="t" style="left:486.50px;top:47.24px;font-size:12px;">600°C</div>
<div class="t" style="left:486.50px;top:61.64px;font-size:12px;">500°C</div>
<div class="t" style="left:313.50px;top:11.97px;font-size:11.5px;letter-spacing:0.3px"><span class=g>ε</span>(<span class=one>1</span><span class=one>1</span><span class=one>1</span>)</div>
<div class="t" style="left:322.40px;top:137.97px;font-size:11.5px;letter-spacing:0.25px"><span class=ga>α</span>(<span class=one>1</span>0<span class=one>1</span>)+<span class=g>ε</span>(2<span class=one>1</span>0)</div>
<div class="t" style="left:246.50px;top:208.57px;font-size:11.5px;letter-spacing:0.3px"><span class=ga>α</span>(002)</div>
<div class="t" style="left:128.80px;top:215.77px;font-size:11.5px;letter-spacing:0.3px"><span class=ga>α</span>(<span class=one>1</span>00)</div>
<div class="t" style="left:87.90px;top:227.27px;font-size:11.5px;letter-spacing:0.1px"><span class=g>ε</span>(<span class=one>1</span>0<span class=one>1</span>)</div>
<div class="t" style="left:157.00px;top:274.97px;font-size:11.5px;letter-spacing:0.3px"><span class=g>ε</span>(200)</div>
<div class="t" style="left:183.20px;top:254.07px;font-size:11.5px;letter-spacing:0.1px"><span class=g>δ</span>(<span class=one>1</span><span class=one>1</span><span class=one>1</span>)</div>
<div class="t" style="left:429.10px;top:264.87px;font-size:11.5px;letter-spacing:0.3px"><span class=g>δ</span>(200)</div>
<div class="t" style="left:19.50px;top:213.06px;font-size:16px;transform-origin:0 13.544px;transform:rotate(-90deg)">Intensity<sup><span class=one>1</span>/2</sup> (A.U)</div>
</div></body></html>
